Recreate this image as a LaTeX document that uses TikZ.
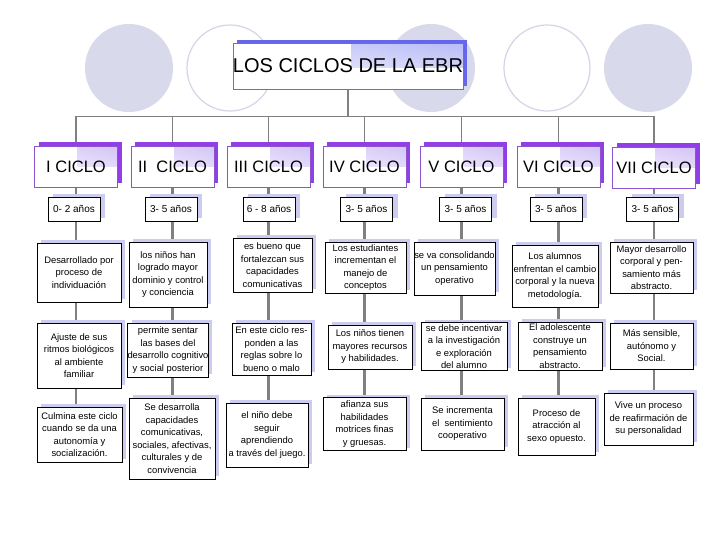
\documentclass[tikz,border=0pt]{standalone}
\usepackage{fontspec}
\setmainfont{Liberation Sans}
\usetikzlibrary{shadows, shadings, backgrounds}

\definecolor{ballfill}{RGB}{217,217,236}
\definecolor{ringline}{RGB}{212,212,232}
\definecolor{titleline}{RGB}{110,110,200}
\definecolor{titleshadow}{RGB}{102,102,236}
\definecolor{titlepatch}{RGB}{185,188,246}
\definecolor{cycleline}{RGB}{140,85,205}
\definecolor{cycleshadow}{RGB}{145,62,232}
\definecolor{cyclepatch}{RGB}{212,196,247}
\definecolor{boxshadow}{RGB}{204,204,240}
\definecolor{linkgray}{RGB}{128,128,128}

\begin{document}
\begin{tikzpicture}[x=1pt, y=-1pt,
  titlebox/.style={draw=titleline, fill=white, line width=0.7pt,
    minimum width=228pt, minimum height=46pt, inner sep=0pt,
    font=\fontsize{20}{24}\selectfont,
    drop shadow={shadow xshift=4pt, shadow yshift=3pt, fill=titleshadow, opacity=1},
    path picture={\shade[upper left=titlepatch!60, upper right=titlepatch,
        lower left=white, lower right=titlepatch!40]
      ([xshift=-112pt]path picture bounding box.north east) rectangle
      ([yshift=-24pt]path picture bounding box.north east);}},
  cyclebox/.style={draw=cycleline, fill=white, line width=0.8pt,
    minimum width=83pt, minimum height=41pt, inner sep=0pt,
    font=\fontsize{16.5}{19}\selectfont,
    drop shadow={shadow xshift=4pt, shadow yshift=4pt, fill=cycleshadow, opacity=1},
    path picture={\shade[upper left=cyclepatch!60, upper right=cyclepatch,
        lower left=white, lower right=cyclepatch!30]
      ([xshift=-40pt]path picture bounding box.north east) rectangle
      ([yshift=-20pt]path picture bounding box.north east);}},
  agebox/.style={draw=black, fill=white, line width=0.8pt,
    minimum width=52pt, minimum height=24pt, inner sep=0pt,
    font=\fontsize{10}{12}\selectfont,
    drop shadow={shadow xshift=5pt, shadow yshift=3pt, fill=boxshadow, opacity=1}},
  infobox/.style 2 args={draw=black, fill=white, line width=0.9pt,
    minimum width=#1, minimum height=#2, inner sep=0pt, align=center,
    font=\fontsize{9.4}{12.5}\selectfont,
    drop shadow={shadow xshift=4pt, shadow yshift=3pt, fill=boxshadow, opacity=1}},
  tree/.style={draw=linkgray, line width=1.6pt},
  link/.style={draw=linkgray, line width=2.6pt}]

  \useasboundingbox (0,0) rectangle (728,546);

  % circles behind the title
  \fill[ballfill] (129,68) circle (44pt);
  \draw[ringline, line width=1.2pt, fill=white] (230,68) circle (43pt);
  \fill[ballfill] (431,68) circle (44pt);
  \draw[ringline, line width=1.2pt, fill=white] (547,68) circle (43pt);
  \fill[ballfill] (648,68) circle (44pt);

  \node[titlebox] (title) at (348,66) {LOS CICLOS DE LA EBR};

  % ciclos
  \node[cyclebox] (cyc1) at (76,166.5) {I CICLO};
  \node[cyclebox] (cyc2) at (172.5,166.5) {II\ \ CICLO};
  \node[cyclebox] (cyc3) at (268.5,166.5) {III CICLO};
  \node[cyclebox] (cyc4) at (364.5,166.5) {IV CICLO};
  \node[cyclebox] (cyc5) at (461.5,166.5) {V CICLO};
  \node[cyclebox] (cyc6) at (558.5,166.5) {VI CICLO};
  \node[cyclebox] (cyc7) at (654,167.5) {VII CICLO};

  % edades
  \node[agebox] (age1) at (74,209) {0- 2 años};
  \node[agebox] (age2) at (171,209) {3- 5 años};
  \node[agebox] (age3) at (269,209) {6 - 8 años};
  \node[agebox] (age4) at (366.5,209) {3- 5 años};
  \node[agebox] (age5) at (465.5,209) {3- 5 años};
  \node[agebox] (age6) at (556,209) {3- 5 años};
  \node[agebox] (age7) at (652.5,209) {3- 5 años};

  % primera fila
  \node[infobox={84pt}{59pt}] (rowa1) at (79,272.5)
    {Desarrollado por\\proceso de\\individuación};
  \node[infobox={78pt}{65pt}] (rowa2) at (168,274.5)
    {los niños han\\logrado mayor\\dominio y control\\y conciencia};
  \node[infobox={79pt}{54pt}] (rowa3) at (272.5,265)
    {es bueno que\\fortalezcan sus\\capacidades\\comunicativas};
  \node[infobox={81pt}{51pt}] (rowa4) at (365.5,267.5)
    {Los estudiantes\\incrementan el\\manejo de\\conceptos};
  \node[infobox={81pt}{53pt}] (rowa5) at (454.5,268.5)
    {se va consolidando\\un pensamiento\\operativo};
  \node[infobox={86pt}{62pt}] (rowa6) at (555,276)
    {Los alumnos\\enfrentan el cambio\\corporal y la nueva\\metodología.};
  \node[infobox={83pt}{51pt}] (rowa7) at (651.5,267.5)
    {Mayor desarrollo\\corporal y pen-\\samiento más\\abstracto.};

  % segunda fila
  \node[infobox={84pt}{65pt}] (rowb1) at (79,355.5)
    {Ajuste de sus\\ritmos biológicos\\al ambiente\\familiar};
  \node[infobox={78pt}{54pt}] (rowb2) at (168,350)
    {permite sentar\\las bases del\\desarrollo cognitivo\\y social posterior};
  \node[infobox={79pt}{52pt}] (rowb3) at (271.5,349)
    {En este ciclo res-\\ponden a las\\reglas sobre lo\\bueno o malo};
  \node[infobox={84pt}{44pt}] (rowb4) at (370,347)
    {Los niños tienen\\mayores recursos\\y habilidades.};
  \node[infobox={86pt}{48pt}] (rowb5) at (464,346.5)
    {se debe incentivar\\a la investigación\\e exploración\\del alumno};
  \node[infobox={84pt}{48pt}] (rowb6) at (560,346)
    {El adolescente\\construye un\\pensamiento\\abstracto.};
  \node[infobox={83pt}{46pt}] (rowb7) at (651.5,346)
    {Más sensible,\\autónomo y\\Social.};

  % tercera fila
  \node[infobox={85pt}{55pt}] (rowc1) at (79.5,434.5)
    {Culmina este ciclo\\cuando se da una\\autonomía y\\socialización.};
  \node[infobox={86pt}{81pt}] (rowc2) at (172,438.5)
    {Se desarrolla\\capacidades\\comunicativas,\\sociales, afectivas,\\culturales y de\\convivencia};
  \node[infobox={82pt}{64pt}] (rowc3) at (267,435)
    {el niño debe\\seguir\\aprendiendo\\a través del juego.};
  \node[infobox={83pt}{53pt}] (rowc4) at (364.5,424)
    {afianza sus\\habilidades\\motrices finas\\y gruesas.};
  \node[infobox={83pt}{52pt}] (rowc5) at (462.5,424)
    {Se incrementa\\el\ \ sentimiento\\cooperativo};
  \node[infobox={77pt}{57pt}] (rowc6) at (556.5,426.5)
    {Proceso de\\atracción al\\sexo opuesto.};
  \node[infobox={89pt}{52pt}] (rowc7) at (648.5,419)
    {Vive un proceso\\de reafirmación de\\su personalidad};

  \begin{scope}[on background layer]
    \fill[white] (0,0) rectangle (728,546);
    \foreach \i in {1,...,7} {
      \draw[tree] (title.south) -- ++(0,27) -| (cyc\i.north);
      \draw[link] (cyc\i.south) -- (cyc\i |- age\i.north);
      \draw[link] (cyc\i |- age\i.south) -- (cyc\i |- rowa\i.north);
      \draw[link] (cyc\i |- rowa\i.south) -- (cyc\i |- rowb\i.north);
      \draw[link] (cyc\i |- rowb\i.south) -- (cyc\i |- rowc\i.north);
    }
  \end{scope}
\end{tikzpicture}
\end{document}
